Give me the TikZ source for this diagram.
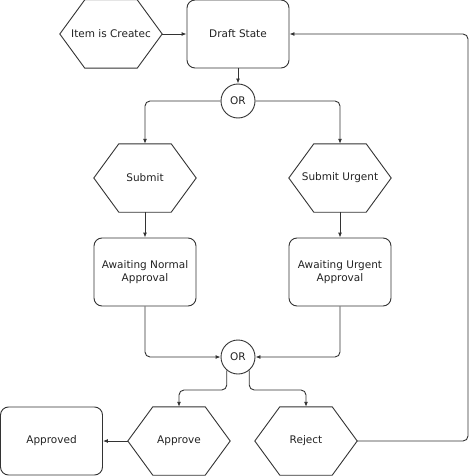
\documentclass[tikz,border=0pt]{standalone}
\usepackage{fontspec}
\setmainfont{DejaVu Sans}
\usetikzlibrary{arrows.meta}
\definecolor{ln}{HTML}{333333}
\definecolor{tx}{HTML}{222222}
\begin{document}
\begin{tikzpicture}[x=1pt,y=-1pt,
  font=\fontsize{10.5}{13}\selectfont,
  box/.style={draw=ln,line width=0.9pt,rounded corners=8pt,minimum width=102pt,minimum height=68pt,inner sep=0pt,align=center,text=tx},
  hexbox/.style={minimum width=102pt,minimum height=68pt,inner sep=0pt,align=center,text=tx},
  orbox/.style={draw=ln,line width=0.9pt,circle,minimum size=34pt,inner sep=0pt,text=tx},
  conn/.style={draw=ln,line width=0.9pt,rounded corners=5pt,-{Latex[length=5pt,width=4pt]}}
]
\useasboundingbox (0,0) rectangle (474,476);
\node[hexbox] (item) at (111,34) {Item is Createc};
\node[box] (draft) at (238,34) {Draft State};
\node[orbox] (or1) at (238,101) {OR};
\node[hexbox] (submit) at (145,178) {Submit};
\node[hexbox] (urgent) at (340,178) {Submit Urgent};
\node[box] (normal) at (145,272) {Awaiting Normal\\Approval};
\node[box] (urgwait) at (340,272) {Awaiting Urgent\\Approval};
\node[orbox] (or2) at (238,357) {OR};
\node[hexbox] (approve) at (179,441) {Approve};
\node[hexbox] (reject) at (306,441) {Reject};
\node[box] (approved) at (51.5,441) {Approved};
\foreach \n in {item,submit,urgent,approve,reject}
  \draw[ln,line width=0.9pt,line join=miter] (\n.west) -- ([xshift=25pt]\n.north west) -- ([xshift=-25pt]\n.north east) -- (\n.east) -- ([xshift=-25pt]\n.south east) -- ([xshift=25pt]\n.south west) -- cycle;
\coordinate (m1) at (179,390);
\coordinate (m2) at (306,390);
\coordinate (rc) at (468,34);
\draw[conn] (item.east) -- (draft.west);
\draw[conn] (draft.south) -- (or1.north);
\draw[conn] (or1.west) -| (submit.north);
\draw[conn] (or1.east) -| (urgent.north);
\draw[conn] (submit.south) -- (normal.north);
\draw[conn] (urgent.south) -- (urgwait.north);
\draw[conn] (normal.south) |- (or2.west);
\draw[conn] (urgwait.south) |- (or2.east);
\draw[conn] (or2.230) |- (m1) -- (approve.north);
\draw[conn] (or2.310) |- (m2) -- (reject.north);
\draw[conn] (approve.west) -- (approved.east);
\draw[conn] (reject.east) -| (rc) -- (draft.east);
\end{tikzpicture}
\end{document}
